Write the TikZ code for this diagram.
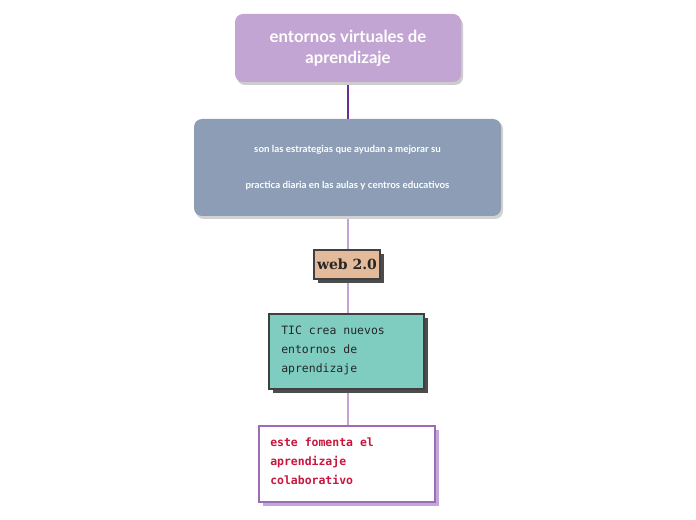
\documentclass[tikz,border=0pt]{standalone}
\usepackage{fontspec}
\setmainfont{Lato}
\newfontfamily\monof{DejaVu Sans Mono}
\newfontfamily\serf{DejaVu Serif}
\definecolor{tpur}{HTML}{C3A5D3}
\definecolor{gblue}{HTML}{8C9DB5}
\definecolor{tan}{HTML}{E3BA9A}
\definecolor{teal}{HTML}{7FCDC1}
\definecolor{dpur}{HTML}{6A2C91}
\definecolor{crim}{HTML}{C8173F}
\definecolor{bpur}{HTML}{9C6CB8}
\begin{document}
\begin{tikzpicture}[x=0.75pt,y=-0.75pt,
  boxs/.style={anchor=north west,inner sep=0,outer sep=0},
  shad/.style={fill=#1,draw=none}]
\useasboundingbox[fill=white] (0,0) rectangle (696,520);
% connectors
\coordinate (c1) at (348,82);
\coordinate (c2) at (348,119);
\draw[dpur,line width=1pt] (c1) -- (c2);
\coordinate (c3) at (348,216);
\coordinate (c4) at (348,426);
\draw[tpur,line width=1pt] (c3) -- (c4);
% title
\fill[gray!40,rounded corners=6pt] (237,17) rectangle (463,85);
\node[boxs,fill=tpur,rounded corners=6pt,minimum width=226*0.75pt,minimum height=68*0.75pt] (t) at (235,14) {};
\node[text=white,font=\bfseries\fontsize{12.5}{16}\selectfont,align=center] at (t.center) {entornos virtuales de\\aprendizaje};
% box2
\fill[gray!35,rounded corners=6pt] (196,121) rectangle (503,219);
\node[boxs,fill=gblue,rounded corners=6pt,minimum width=307*0.75pt,minimum height=97*0.75pt] (b) at (194,119) {};
\node[text=white,font=\bfseries\fontsize{7.3}{27}\selectfont,align=center] at (b.center) {son las estrategias que ayudan a mejorar su\\practica diaria en las aulas y centros educativos};
% web 2.0
\fill[black!70] (318,254) rectangle (384,283);
\node[boxs,fill=tan,draw=black!75,line width=0.8pt,minimum width=66*0.75pt,minimum height=29*0.75pt] (w) at (314,250) {};
\node[font=\serf\bfseries\fontsize{10.5}{12}\selectfont,text=black!85] at (w.center) {web 2.0};
% TIC
\fill[black!70] (273,318) rectangle (428,393);
\node[boxs,fill=teal,draw=black!75,line width=0.8pt,minimum width=155*0.75pt,minimum height=75*0.75pt] (tic) at (269,314) {};
\node[anchor=north west,font=\monof\fontsize{8.6}{14.2}\selectfont,align=left,text=black!85,inner sep=0] at (281,326) {TIC crea nuevos\\entornos de\\aprendizaje};
% este
\fill[bpur!60] (263,430) rectangle (439,506);
\node[boxs,fill=white,draw=bpur,line width=0.8pt,minimum width=176*0.75pt,minimum height=76*0.75pt] (e) at (259,426) {};
\node[anchor=north west,font=\monof\bfseries\fontsize{8.6}{14.2}\selectfont,align=left,text=crim,inner sep=0] at (270,438) {este fomenta el\\aprendizaje\\colaborativo};
\end{tikzpicture}
\end{document}
